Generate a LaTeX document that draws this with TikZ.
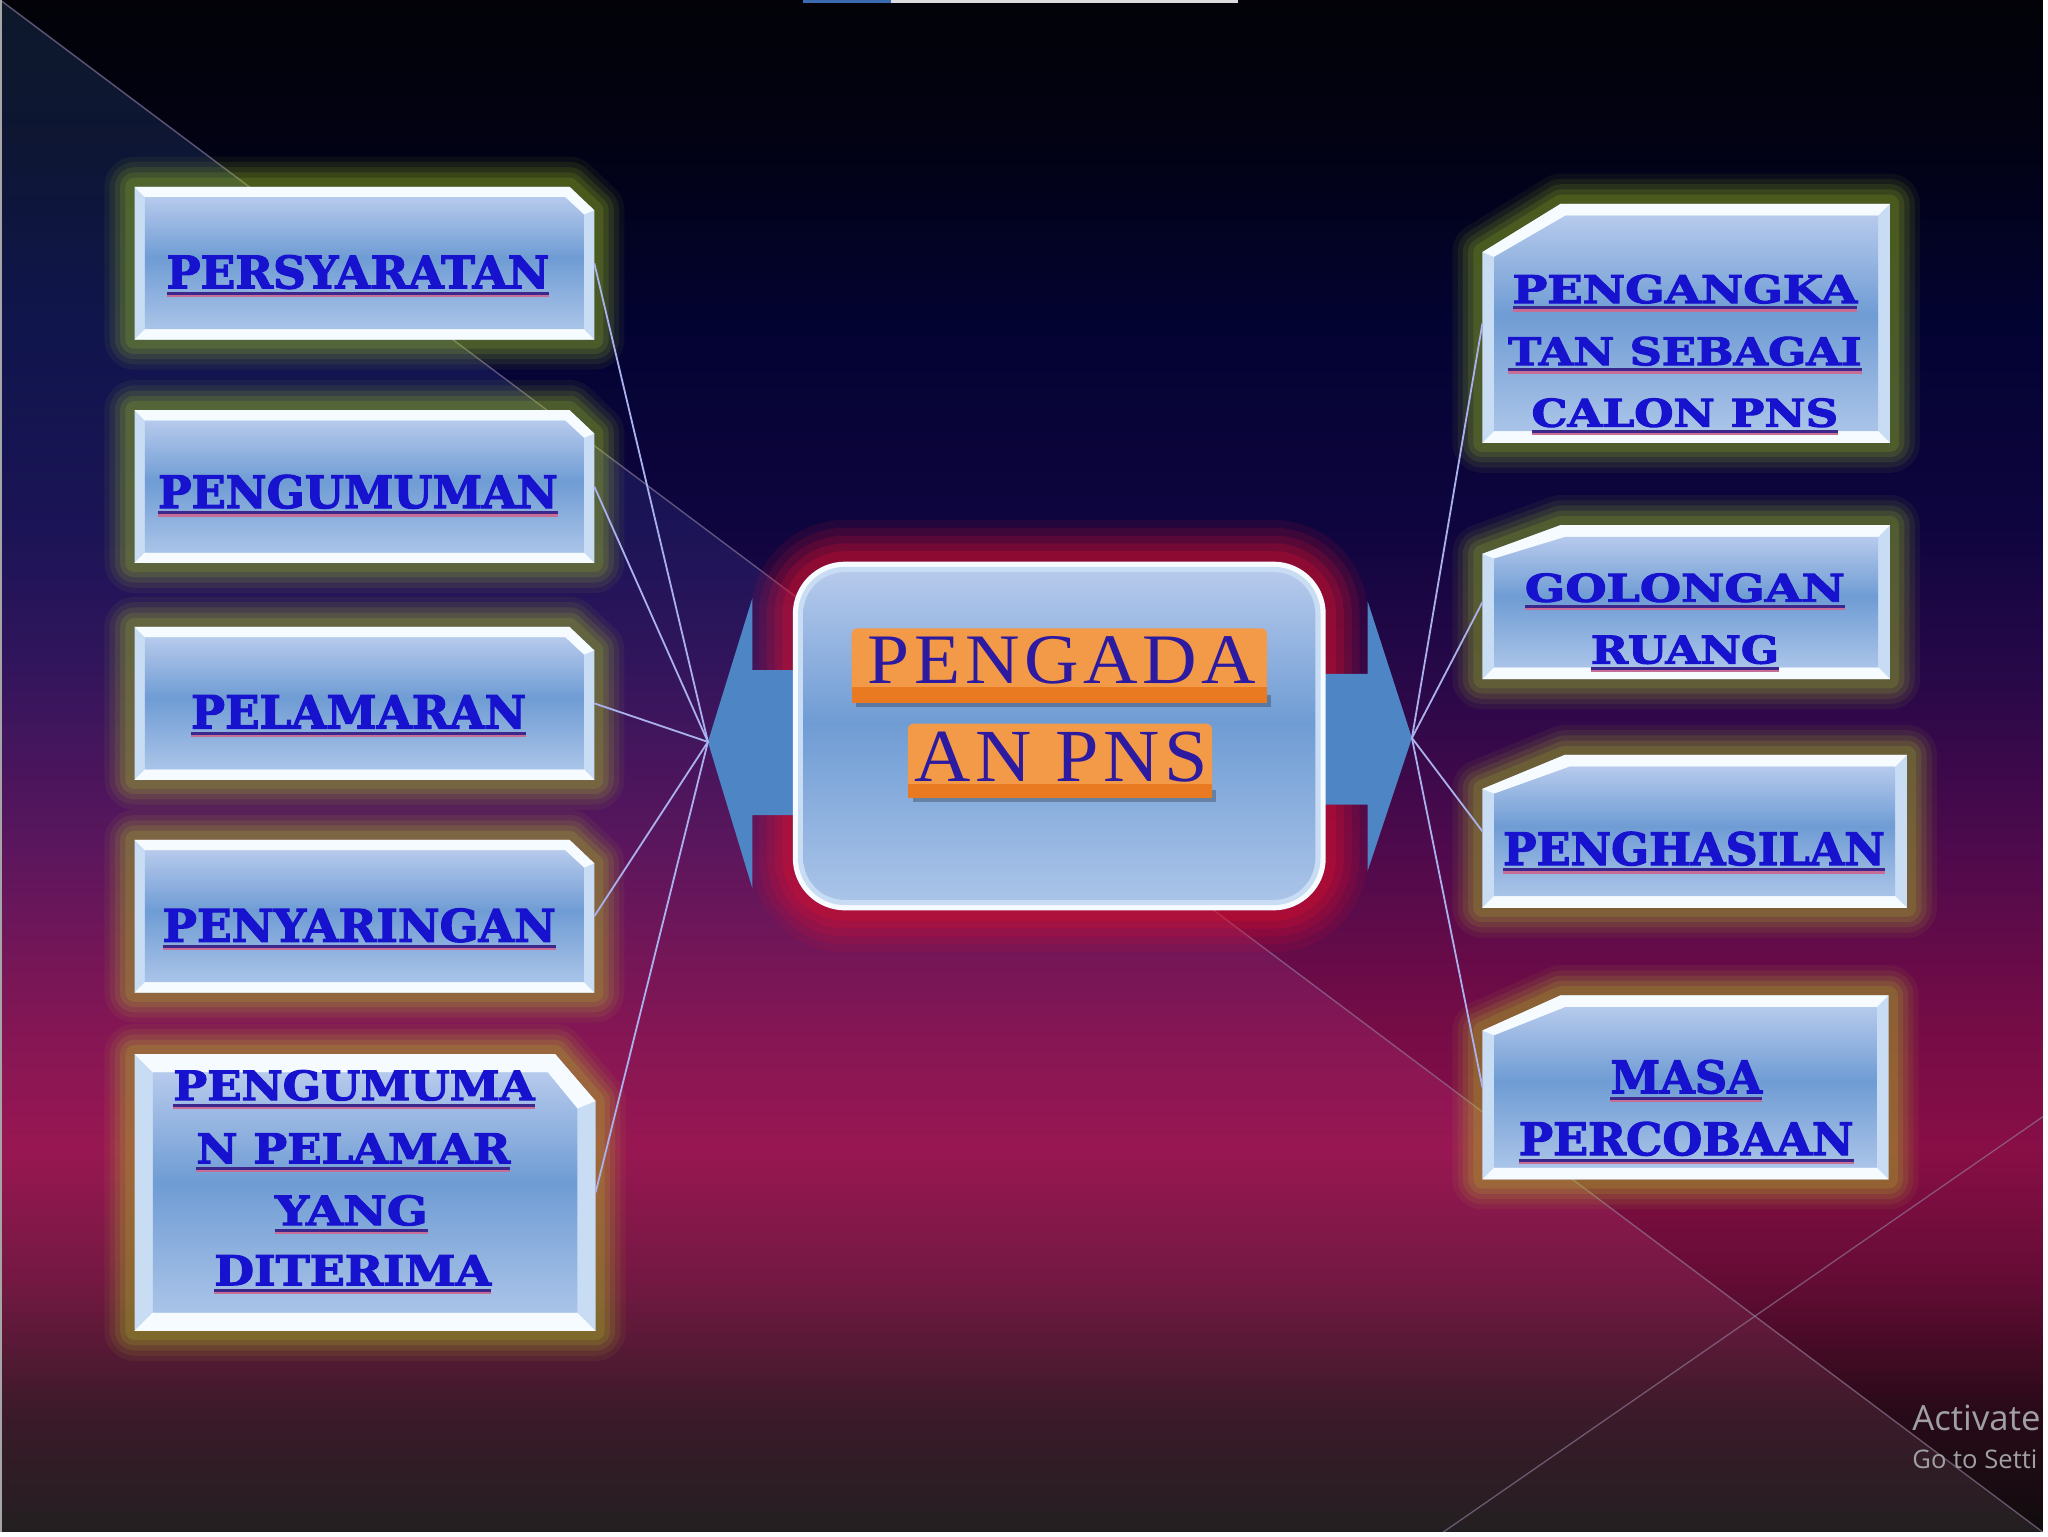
\documentclass[tikz,border=0pt]{standalone}
\usepackage{fontspec}
\usepackage{graphicx}
\newfontfamily\boxfont{DejaVu Serif}[BoldFeatures={FakeBold=2.5}]
\newfontfamily\titlefont{Liberation Serif}[LetterSpace=6]
\newfontfamily\winfont{Open Sans}

\definecolor{bgA}{RGB}{2,2,8}
\definecolor{bgB}{RGB}{2,2,18}
\definecolor{bgC}{RGB}{3,3,50}
\definecolor{bgD}{RGB}{14,5,62}
\definecolor{bgE}{RGB}{40,8,72}
\definecolor{bgF}{RGB}{78,10,76}
\definecolor{bgG}{RGB}{116,12,70}
\definecolor{bgH}{RGB}{136,14,70}
\definecolor{bgI}{RGB}{100,12,52}
\definecolor{bgJ}{RGB}{40,10,24}
\definecolor{bgK}{RGB}{16,12,14}
\definecolor{ovA}{RGB}{80,160,255}
\definecolor{ovB}{RGB}{110,110,230}
\definecolor{ovC}{RGB}{255,80,160}
\definecolor{ovD}{RGB}{150,150,150}
\definecolor{faceT}{RGB}{182,202,236}
\definecolor{faceM}{RGB}{111,156,212}
\definecolor{faceB}{RGB}{170,196,232}
\definecolor{framec}{RGB}{200,220,244}
\definecolor{bevw}{RGB}{246,251,255}
\definecolor{glowY}{RGB}{180,220,32}
\definecolor{glowR}{RGB}{224,16,44}
\definecolor{arrowc}{RGB}{78,133,197}
\definecolor{connc}{RGB}{169,176,236}
\definecolor{txtblue}{RGB}{22,18,205}
\definecolor{uldark}{RGB}{60,40,140}
\definecolor{ulpink}{RGB}{200,110,150}
\definecolor{titleblue}{RGB}{44,26,160}
\definecolor{orng}{RGB}{243,154,72}
\definecolor{orngdk}{RGB}{233,122,34}
\definecolor{linec}{RGB}{150,130,160}
\definecolor{topblue}{RGB}{58,106,176}
\definecolor{topgray}{RGB}{220,220,220}
\definecolor{wintc}{RGB}{160,160,164}

\pgfdeclareverticalshading{bgshade}{100bp}{color(0bp)=(bgK); color(25bp)=(bgK); color(28.96bp)=(bgJ); color(33.23bp)=(bgI); color(37.49bp)=(bgH); color(41.75bp)=(bgG); color(47.29bp)=(bgF); color(52.83bp)=(bgE); color(57.95bp)=(bgD); color(64.34bp)=(bgC); color(70.74bp)=(bgB); color(75bp)=(bgA); color(100bp)=(bgA)}
\pgfdeclareverticalshading{ovshade}{100bp}{color(0bp)=(ovD); color(25bp)=(ovD); color(37.5bp)=(ovC); color(55.8bp)=(ovB); color(75bp)=(ovA); color(100bp)=(ovA)}
\pgfdeclareverticalshading{faceshade}{100bp}{color(0bp)=(faceB); color(25bp)=(faceB); color(52bp)=(faceM); color(75bp)=(faceT); color(100bp)=(faceT)}

\newcommand\ult[1]{\setbox0=\hbox{#1}\rlap{\color{ulpink}\rule[-6.6pt]{\wd0}{2pt}}\rlap{\color{uldark}\rule[-4.9pt]{\wd0}{2.3pt}}\box0}
\newcommand\btext[3]{\ult{\resizebox{#1pt}{#2pt}{#3}}}

\newcommand\glow[2]{\foreach \glw/\glo in {46/0.06,38/0.08,30/0.10,22/0.12,14/0.14}{\draw[#1, line width=\glw pt, opacity=\glo, line join=round] #2;}}

% right-top snipped box (left column): name x1 y1 x2 y2 sx sy d
\newcommand\rsnipbox[8]{%
 \glow{glowY}{(#2,#3) -- ({#4-#6},#3) -- (#4,{#3+#7}) -- (#4,#5) -- (#2,#5) -- cycle}
 \fill[framec] (#2,#3) -- ({#4-#6},#3) -- (#4,{#3+#7}) -- (#4,#5) -- (#2,#5) -- cycle;
 \fill[bevw] (#2,#3) -- ({#4-#6},#3) -- (#4,{#3+#7}) -- ({#4-#8},{#3+#7+0.41*#8}) -- ({#4-#6-0.41*#8},{#3+#8}) -- ({#2+#8},{#3+#8}) -- cycle;
 \fill[bevw] (#2,#5) -- (#4,#5) -- ({#4-#8},{#5-#8}) -- ({#2+#8},{#5-#8}) -- cycle;
 \shade[shading=faceshade] ({#2+#8},{#3+#8}) -- ({#4-#6-0.41*#8},{#3+#8}) -- ({#4-#8},{#3+#7+0.41*#8}) -- ({#4-#8},{#5-#8}) -- ({#2+#8},{#5-#8}) -- cycle;
 \node[anc, minimum width={(#4-#2)*1pt}, minimum height={(#5-#3)*1pt}] (#1) at ({(#2+#4)/2},{(#3+#5)/2}) {};
}
% left-top snipped box (right column)
\newcommand\lsnipbox[8]{%
 \glow{glowY}{(#2,{#3+#7}) -- ({#2+#6},#3) -- (#4,#3) -- (#4,#5) -- (#2,#5) -- cycle}
 \fill[framec] (#2,{#3+#7}) -- ({#2+#6},#3) -- (#4,#3) -- (#4,#5) -- (#2,#5) -- cycle;
 \fill[bevw] (#2,{#3+#7}) -- ({#2+#6},#3) -- (#4,#3) -- ({#4-#8},{#3+#8}) -- ({#2+#6+0.41*#8},{#3+#8}) -- ({#2+#8},{#3+#7+0.41*#8}) -- cycle;
 \fill[bevw] (#2,#5) -- (#4,#5) -- ({#4-#8},{#5-#8}) -- ({#2+#8},{#5-#8}) -- cycle;
 \shade[shading=faceshade] ({#2+#8},{#3+#7+0.41*#8}) -- ({#2+#6+0.41*#8},{#3+#8}) -- ({#4-#8},{#3+#8}) -- ({#4-#8},{#5-#8}) -- ({#2+#8},{#5-#8}) -- cycle;
 \node[anc, minimum width={(#4-#2)*1pt}, minimum height={(#5-#3)*1pt}] (#1) at ({(#2+#4)/2},{(#3+#5)/2}) {};
}

\tikzset{
 anc/.style={rectangle, inner sep=0pt, outer sep=0pt, draw=none},
 btxt/.style={font=\boxfont\bfseries\fontsize{30}{36}\selectfont, text=txtblue, anchor=base, inner sep=0pt},
 ttxt/.style={font=\titlefont\fontsize{50}{60}\selectfont, text=titleblue, anchor=base, inner sep=0pt},
 conn/.style={draw=connc, line width=1.4pt},
 bgline/.style={draw=linec, line width=1pt, opacity=0.6},
}

\begin{document}
\begin{tikzpicture}[x=1pt,y=-1pt]
\useasboundingbox (0,0) rectangle (1568,1176);
% page and background
\fill[white] (0,0) rectangle (1568,1176);
\shade[shading=bgshade] (1.5,0) rectangle (1564,1173);
\fill[gray!70] (0,0) rectangle (1.5,1173);
\shade[shading=ovshade, opacity=0.14] (1.5,0) -- (1564,1173) -- (1.5,1173) -- cycle;
\draw[bgline] (1.5,1.1) -- (1564,1173);
\draw[bgline] (1564,855) -- (1105,1173);
\fill[topblue] (615,0) rectangle (682,2.5);
\fill[topgray] (682,0) rectangle (948,2.5);

% left boxes
\rsnipbox{b1}{103}{143}{455}{260}{19}{18}{8}
\rsnipbox{b2}{103}{314}{455}{431}{19}{18}{8}
\rsnipbox{b3}{103}{480}{455}{597}{19}{18}{8}
\rsnipbox{b4}{103}{643}{455}{760}{19}{18}{8}
\rsnipbox{b5}{103}{807}{456}{1019}{31}{36}{14}
% right boxes
\lsnipbox{b6}{1135}{156}{1447}{339}{60}{37}{9}
\lsnipbox{b7}{1135}{402}{1447}{520}{60}{22}{9}
\lsnipbox{b8}{1135}{578}{1460}{695}{63}{26}{9}
\lsnipbox{b9}{1135}{762}{1446}{903}{60}{27}{9}

% centre glow
\foreach \glw/\glo in {64/0.10,52/0.13,40/0.16,28/0.2,16/0.24}{\draw[glowR, line width=\glw pt, opacity=\glo, rounded corners=40pt] (607,430) rectangle (1015,697);}

% arrows
\coordinate (ltip) at (542,568);
\coordinate (rtip) at (1081,565);
\fill[arrowc] (ltip) -- (576,458) -- (576,513) -- (625,513) -- (625,624) -- (576,624) -- (576,680) -- cycle;
\fill[arrowc] (rtip) -- (1047,460) -- (1047,516) -- (1000,516) -- (1000,616) -- (1047,616) -- (1047,667) -- cycle;

% centre box
\fill[bevw, rounded corners=40pt] (607,430) rectangle (1015,697);
\fill[framec, rounded corners=36pt] (611,434) rectangle (1011,693);
\shade[shading=faceshade, rounded corners=32pt] (615,438) rectangle (1007,689);
\node[anc, minimum width=408pt, minimum height=267pt] (cbox) at (811,563.5) {};

% connectors
\draw[conn] (ltip) -- (b1.east);
\draw[conn] (ltip) -- (b2.east);
\draw[conn] (ltip) -- (b3.east);
\draw[conn] (ltip) -- (b4.east);
\draw[conn] (ltip) -- (b5.east);
\draw[conn] (rtip) -- (b6.west);
\draw[conn] (rtip) -- (b7.west);
\draw[conn] (rtip) -- (b8.west);
\draw[conn] (rtip) -- (b9.west);

% centre title
\fill[black, opacity=0.25] (655,532) rectangle (973,541);
\fill[orng, rounded corners=4pt] (652,481) rectangle (970,532);
\fill[orngdk] (652,526) rectangle (970,538);
\fill[black, opacity=0.25] (699,605) rectangle (931,614);
\fill[orng, rounded corners=4pt] (695,554) rectangle (928,605);
\fill[orngdk] (695,600) rectangle (928,611);
\node[ttxt] (tt1) at (813,523) {\resizebox{297pt}{36pt}{PENGADA}};
\node[ttxt] (tt2) at (812.5,598.5) {\resizebox{225pt}{38pt}{AN PNS}};

% box texts
\node[btxt] (t1) at (274,220.8) {\btext{293}{25.5}{PERSYARATAN}};
\node[btxt] (t2) at (274,389) {\btext{306}{25.5}{PENGUMUMAN}};
\node[btxt] (t3) at (274.5,557.7) {\btext{256.5}{25.5}{PELAMARAN}};
\node[btxt] (t4) at (275,721) {\btext{301}{25.5}{PENYARINGAN}};
\node[btxt] (t5a) at (271,842.3) {\btext{276.6}{23}{PENGUMUMA}};
\node[btxt] (t5b) at (270.6,890.7) {\btext{240.3}{23}{N PELAMAR}};
\node[btxt] (t5c) at (269,938) {\btext{116.8}{23}{YANG}};
\node[btxt] (t5d) at (270,984) {\btext{212}{23}{DITERIMA}};
\node[btxt] (t6a) at (1290,232) {\btext{264}{21.7}{PENGANGKA}};
\node[btxt] (t6b) at (1290,279.5) {\btext{270.7}{21.7}{TAN SEBAGAI}};
\node[btxt] (t6c) at (1290,326.7) {\btext{234.8}{21.7}{CALON PNS}};
\node[btxt] (t7a) at (1290,460.7) {\btext{245}{21.7}{GOLONGAN}};
\node[btxt] (t7b) at (1290,508) {\btext{144}{21.7}{RUANG}};
\node[btxt] (t8) at (1297,662.3) {\btext{292.3}{25.5}{PENGHASILAN}};
\node[btxt] (t9a) at (1291,837) {\btext{116}{25.5}{MASA}};
\node[btxt] (t9b) at (1291,884.4) {\btext{256.4}{25.5}{PERCOBAAN}};

% watermark
\node[font=\winfont\fontsize{26.6}{30}\selectfont, text=wintc, anchor=base west, inner sep=0pt] (act1) at (1464,1095) {Activate};
\node[font=\winfont\fontsize{19.6}{24}\selectfont, text=wintc, anchor=base west, inner sep=0pt] (act2) at (1464,1124) {Go to Setti};
\fill[white] (1564,0) rectangle (1568,1176);
\fill[white] (0,1173) rectangle (1568,1176);
\end{tikzpicture}
\end{document}
